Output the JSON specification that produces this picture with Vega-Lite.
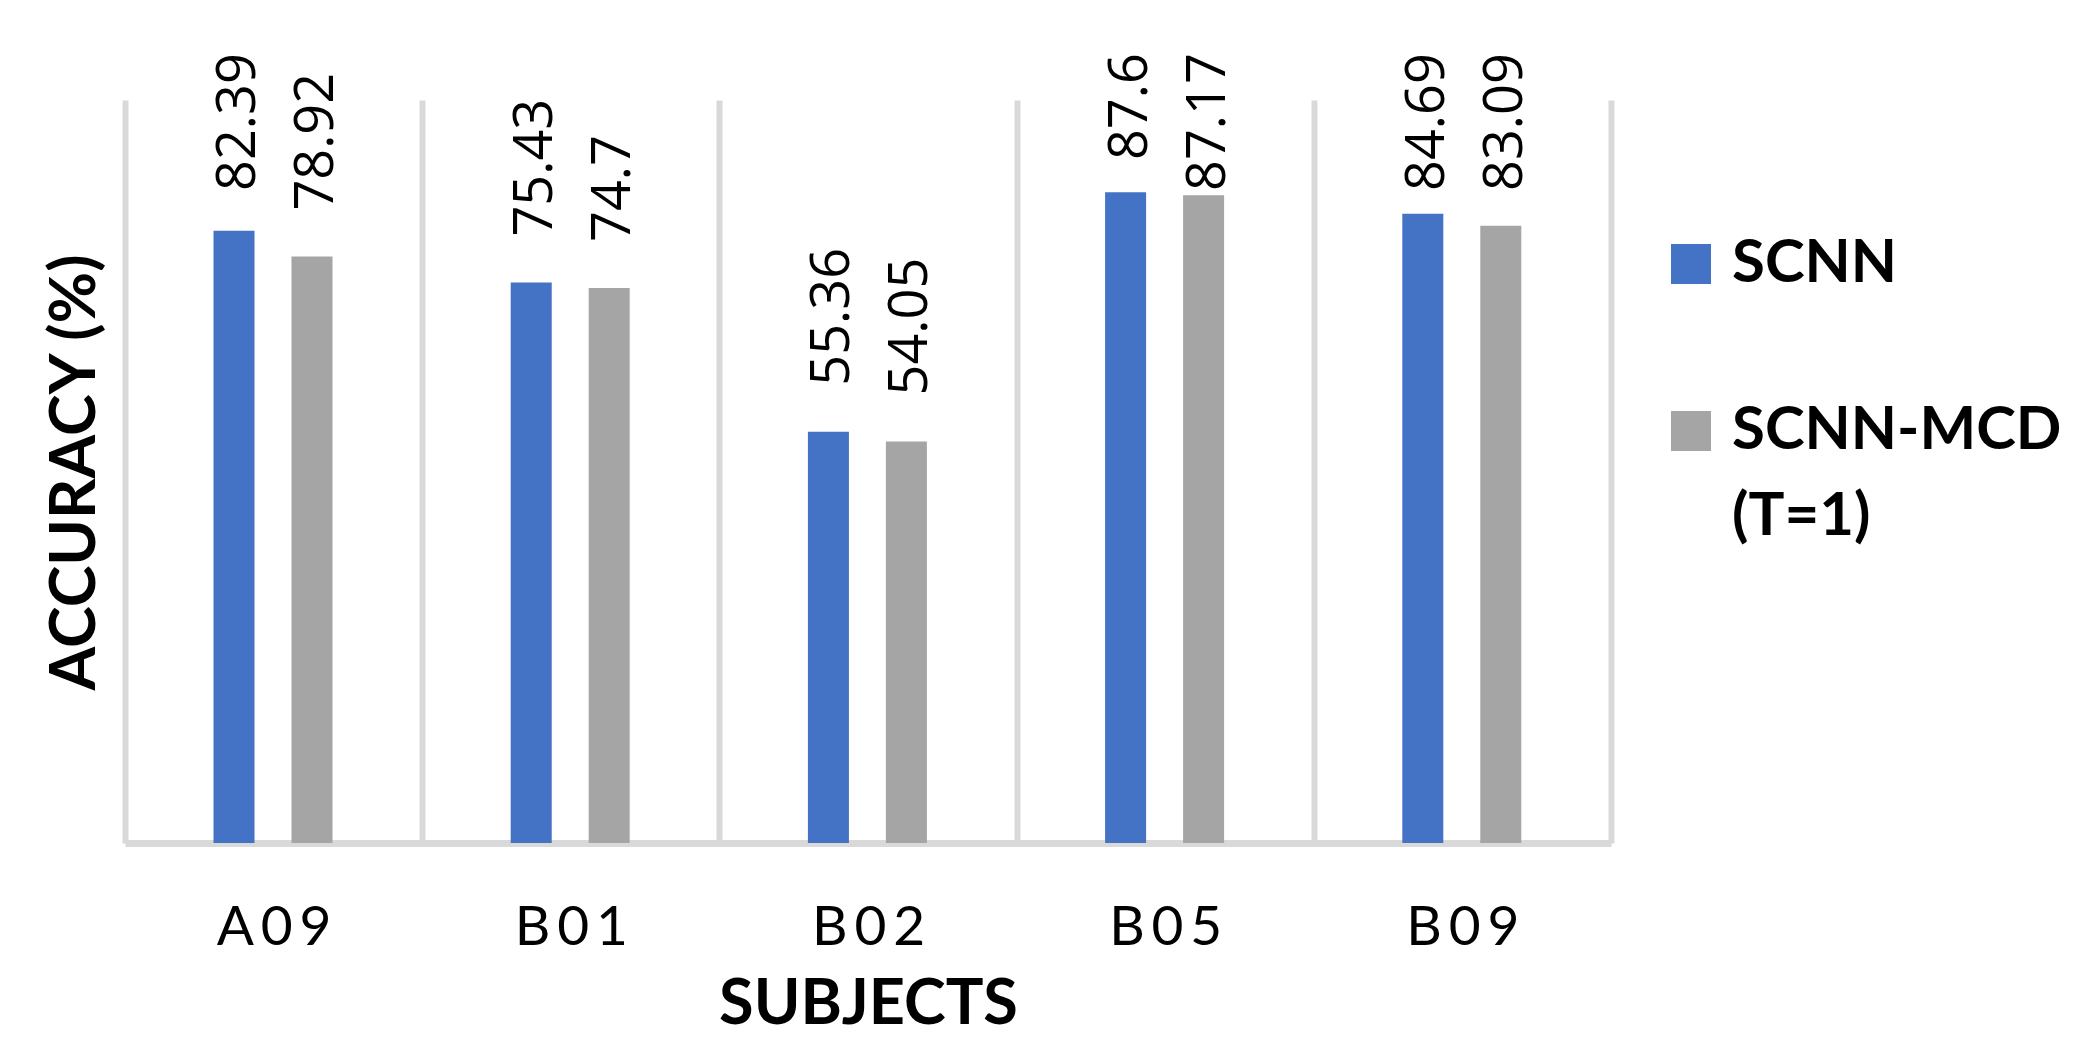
{
  "$schema": "https://vega.github.io/schema/vega-lite/v6.json",
  "autosize": "none",
  "width": 1486,
  "height": 743,
  "padding": {"left": 125, "top": 100, "right": 464, "bottom": 209},
  "background": "white",
  "config": {
    "view": {"stroke": null},
    "legend": {
      "labelFont": "Lato",
      "labelFontWeight": "bold",
      "labelFontSize": 60,
      "labelColor": "black",
      "labelLimit": 600,
      "symbolType": "square",
      "symbolSize": 1600,
      "symbolStrokeWidth": 0,
      "symbolOpacity": 1,
      "labelOffset": 11,
      "rowPadding": 107,
      "padding": 0
    }
  },
  "data": {
    "values": [
      {"subject": "A09", "model": "SCNN", "acc": 82.39},
      {"subject": "A09", "model": "SCNN-MCD (T=1)", "acc": 78.92},
      {"subject": "B01", "model": "SCNN", "acc": 75.43},
      {"subject": "B01", "model": "SCNN-MCD (T=1)", "acc": 74.7},
      {"subject": "B02", "model": "SCNN", "acc": 55.36},
      {"subject": "B02", "model": "SCNN-MCD (T=1)", "acc": 54.05},
      {"subject": "B05", "model": "SCNN", "acc": 87.6},
      {"subject": "B05", "model": "SCNN-MCD (T=1)", "acc": 87.17},
      {"subject": "B09", "model": "SCNN", "acc": 84.69},
      {"subject": "B09", "model": "SCNN-MCD (T=1)", "acc": 83.09}
    ]
  },
  "encoding": {
    "x": {
      "field": "subject",
      "type": "nominal",
      "sort": null,
      "scale": {"paddingInner": 0, "paddingOuter": 0},
      "axis": {
        "title": "SUBJECTS",
        "titleFont": "Lato",
        "titleFontWeight": "bold",
        "titleFontSize": 63,
        "titleColor": "black",
        "titleBaseline": "top",
        "titleY": 130,
        "labelFont": "Lato",
        "labelFontSize": 55,
        "labelColor": "black",
        "labelAngle": 0,
        "labelBaseline": "top",
        "labelPadding": 58,
        "labelExpr": "join(split(datum.label, ''), '\u2009')",
        "ticks": false,
        "tickSize": 0,
        "grid": true,
        "tickBand": "extent",
        "gridColor": "#d9d9d9",
        "gridWidth": 6,
        "domain": true,
        "domainColor": "#d9d9d9",
        "domainWidth": 7
      }
    },
    "xOffset": {
      "field": "model",
      "type": "nominal",
      "scale": {"range": [88.5, 207.5], "paddingInner": 0.474, "paddingOuter": 0}
    },
    "color": {
      "field": "model",
      "type": "nominal",
      "title": null,
      "scale": {"domain": ["SCNN", "SCNN-MCD (T=1)"], "range": ["#4472C4", "#A5A5A5"]},
      "legend": {
        "orient": "none",
        "legendX": 1536,
        "legendY": 134,
        "labelExpr": "datum.label == 'SCNN-MCD (T=1)' ? ['SCNN-MCD', '(T=1)'] : datum.label",
        "encode": {"labels": {"update": {"lineHeight": {"value": 86}}}}
      }
    }
  },
  "layer": [
    {
      "mark": {"type": "bar"},
      "encoding": {
        "y": {
          "field": "acc",
          "type": "quantitative",
          "scale": {"domain": [0, 100], "nice": false},
          "axis": {
            "title": "ACCURACY (%)",
            "titleFont": "Lato",
            "titleFontWeight": "bold",
            "titleFontSize": 63,
            "titleColor": "black",
            "titleAngle": 270,
            "titleBaseline": "alphabetic",
            "titleAlign": "center",
            "titleX": -31,
            "titleY": 372,
            "labels": false,
            "ticks": false,
            "grid": false,
            "domain": false
          }
        }
      }
    },
    {
      "transform": [{"filter": "datum.acc < 80"}],
      "mark": {
        "type": "text",
        "font": "Open Sans",
        "fontSize": 54,
        "color": "black",
        "angle": 270,
        "align": "left",
        "baseline": "middle",
        "dy": 5,
        "yOffset": -46
      },
      "encoding": {
        "y": {"field": "acc", "type": "quantitative"},
        "text": {"field": "acc", "type": "quantitative"},
        "color": {"value": "black"}
      }
    },
    {
      "transform": [{"filter": "datum.acc >= 80"}],
      "mark": {
        "type": "text",
        "font": "Open Sans",
        "fontSize": 54,
        "color": "black",
        "angle": 270,
        "align": "right",
        "baseline": "middle",
        "dy": 5
      },
      "encoding": {
        "y": {"datum": 106.3, "type": "quantitative"},
        "text": {"field": "acc", "type": "quantitative"},
        "color": {"value": "black"}
      }
    }
  ]
}
